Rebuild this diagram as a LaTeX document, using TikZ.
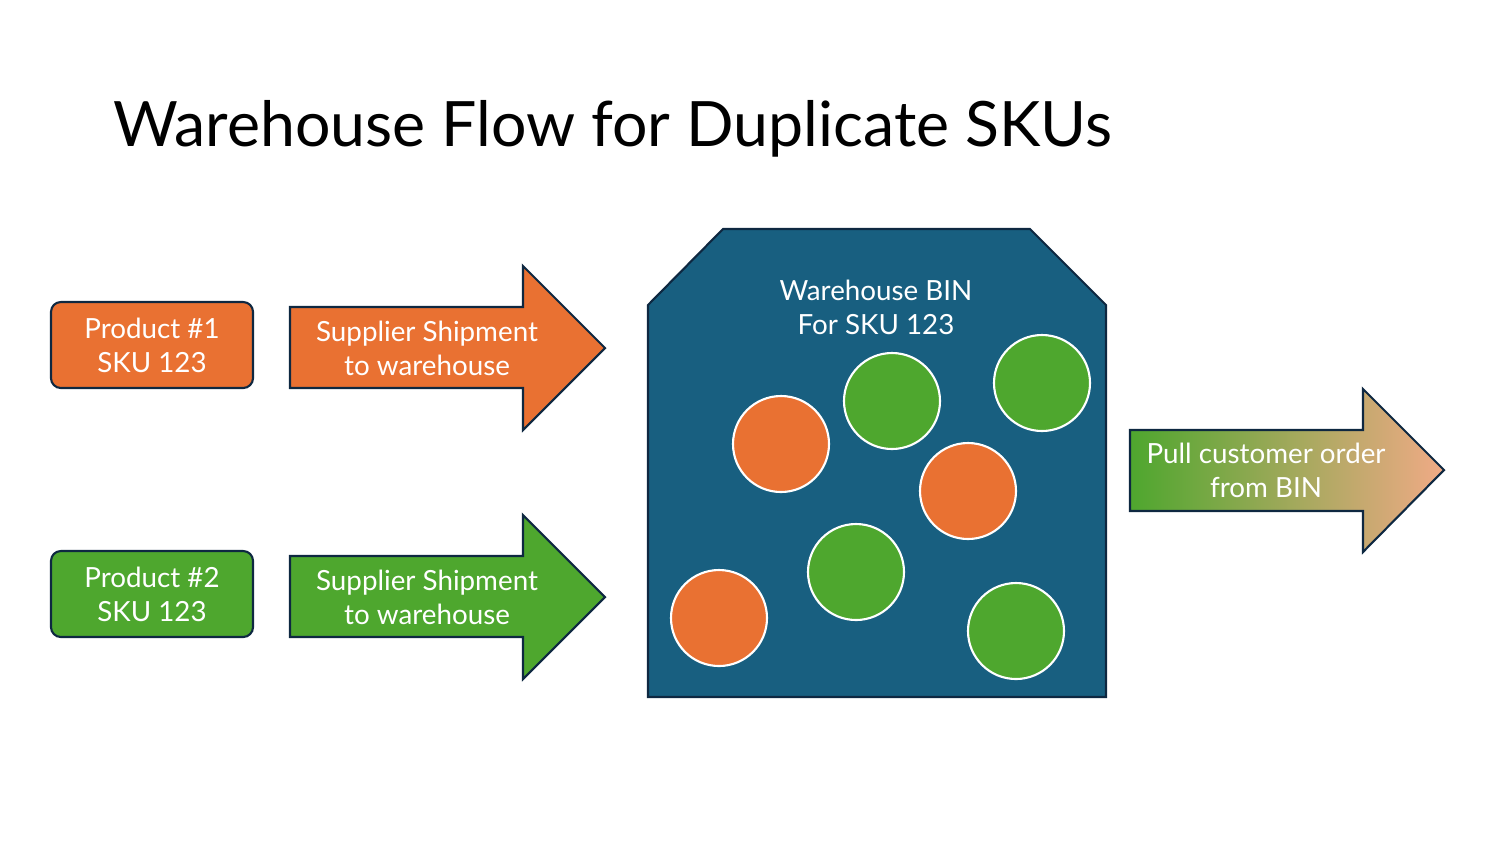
\documentclass[tikz,border=0pt]{standalone}
\usepackage{fontspec}
\setmainfont{Lato}
\definecolor{skuorange}{HTML}{E97132}
\definecolor{skugreen}{HTML}{4EA72E}
\definecolor{binblue}{HTML}{185F80}
\definecolor{edgenavy}{HTML}{0E2841}
\definecolor{fadeorange}{HTML}{F0AA86}
\tikzset{
  prod/.style={rounded corners=2.8pt, draw=edgenavy, line width=0.6pt, minimum width=20.2mm, minimum height=8.6mm, align=center, text=white, font=\fontsize{7.9}{9.7}\selectfont},
  ship/.style={draw=edgenavy, line width=0.6pt},
  label/.style={align=center, text=white, font=\fontsize{7.9}{9.7}\selectfont},
  item/.style={circle, draw=white, line width=0.6pt, minimum size=9.6mm, inner sep=0}
}
\begin{document}
\begin{tikzpicture}[x=0.1mm,y=-0.1mm]
  \useasboundingbox (0,0) rectangle (1500,844);
  \node[anchor=base west, font=\fontsize{17.8}{22}\selectfont] (title) at (101,146) {Warehouse Flow for Duplicate SKUs};

  % products
  \node[prod, fill=skuorange] (p1) at (152,345) {Product \#1\\SKU 123};
  \node[prod, fill=skugreen] (p2) at (152,594) {Product \#2\\SKU 123};

  % shipment arrows
  \draw[ship, fill=skuorange] (290,307) -- (523,307) -- (523,266) -- (605,348) -- (523,430) -- (523,388) -- (290,388) -- cycle;
  \node[label] (s1) at (427,348) {Supplier Shipment\\to warehouse};
  \draw[ship, fill=skugreen] (290,556) -- (523,556) -- (523,515) -- (605,597) -- (523,679) -- (523,637) -- (290,637) -- cycle;
  \node[label] (s2) at (427,597) {Supplier Shipment\\to warehouse};

  % bin
  \draw[ship, fill=binblue] (648,305) -- (723,229) -- (1030,229) -- (1106,305) -- (1106,697) -- (648,697) -- cycle;
  \node[label] (bin) at (876,307) {Warehouse BIN\\For SKU 123};
  \foreach \x/\y in {781/444, 968/491, 719/618}
    \node[item, fill=skuorange] at (\x,\y) {};
  \foreach \x/\y in {892/401, 1042/383, 856/572, 1016/631}
    \node[item, fill=skugreen] at (\x,\y) {};

  % order pull
  \draw[ship, left color=skugreen, right color=fadeorange] (1130,430) -- (1363,430) -- (1363,389) -- (1444,470) -- (1363,552) -- (1363,511) -- (1130,511) -- cycle;
  \node[label] (pull) at (1266,470) {Pull customer order\\from BIN};
\end{tikzpicture}
\end{document}
